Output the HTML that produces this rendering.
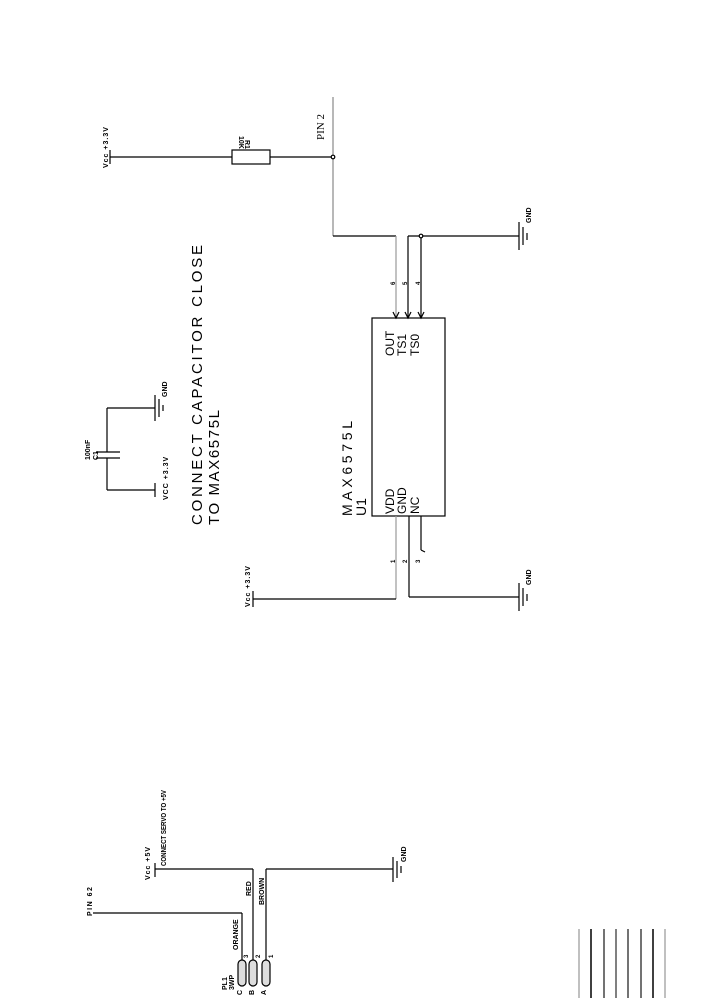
<!DOCTYPE html>
<html><head><style>
html,body{margin:0;padding:0;background:#fff;}
svg{display:block;}
text{font-family:"Liberation Sans",sans-serif;fill:#000;}
</style></head><body>
<svg width="712" height="998" viewBox="0 0 712 998" xmlns="http://www.w3.org/2000/svg">
<g stroke="#000" stroke-width="1.2" fill="none">
<line x1="110" y1="150" x2="110" y2="164"/>
<line x1="110" y1="157" x2="232" y2="157"/>
<rect x="232" y="150" width="38" height="14"/>
<line x1="270" y1="157" x2="333" y2="157"/>
<line x1="333" y1="97" x2="333" y2="236" stroke="#888"/>
<circle cx="333" cy="157" r="1.8" fill="#fff"/>
<line x1="333" y1="236" x2="396" y2="236"/>
<line x1="396" y1="236" x2="396" y2="318" stroke="#999"/>
<line x1="408" y1="236" x2="519" y2="236"/>
<line x1="408" y1="236" x2="408" y2="318"/>
<line x1="421" y1="236" x2="421" y2="318"/>
<circle cx="421" cy="236" r="1.8" fill="#fff"/>
<path d="M393 312 L396 318 L399 312 M405 312 L408 318 L411 312 M418 312 L421 318 L424 312"/>
<line x1="519" y1="222" x2="519" y2="250"/>
<line x1="523" y1="227" x2="523" y2="245"/>
<line x1="527" y1="233" x2="527" y2="240"/>
<rect x="372" y="318" width="73" height="198"/>
<line x1="396" y1="516" x2="396" y2="599" stroke="#999"/>
<line x1="253" y1="599" x2="396" y2="599"/>
<line x1="253" y1="591" x2="253" y2="607"/>
<line x1="409" y1="516" x2="409" y2="597"/>
<line x1="409" y1="597" x2="519" y2="597"/>
<line x1="519" y1="583" x2="519" y2="611"/>
<line x1="523" y1="588" x2="523" y2="606"/>
<line x1="527" y1="594" x2="527" y2="601"/>
<line x1="421" y1="516" x2="421" y2="550"/>
<path d="M421 550 L425 552"/>
<line x1="155" y1="483" x2="155" y2="497"/>
<line x1="107" y1="490" x2="155" y2="490"/>
<line x1="107" y1="458" x2="107" y2="490"/>
<line x1="96" y1="458" x2="120" y2="458"/>
<line x1="96" y1="452" x2="120" y2="452"/>
<line x1="107" y1="408" x2="107" y2="452"/>
<line x1="107" y1="408" x2="155" y2="408"/>
<line x1="155" y1="395" x2="155" y2="421"/>
<line x1="159" y1="399" x2="159" y2="417"/>
<line x1="163" y1="405" x2="163" y2="411"/>
<line x1="93" y1="913" x2="242" y2="913"/>
<line x1="242" y1="913" x2="242" y2="962"/>
<line x1="155" y1="863" x2="155" y2="877"/>
<line x1="155" y1="869" x2="253" y2="869"/>
<line x1="253" y1="869" x2="253" y2="962"/>
<line x1="266" y1="869" x2="393" y2="869"/>
<line x1="266" y1="869" x2="266" y2="962"/>
<line x1="393" y1="857" x2="393" y2="882"/>
<line x1="397" y1="861" x2="397" y2="878"/>
<line x1="401" y1="866" x2="401" y2="873"/>
<rect x="238" y="960" width="8" height="26" rx="4" fill="#ddd"/>
<rect x="249" y="960" width="8" height="26" rx="4" fill="#ddd"/>
<rect x="262" y="960" width="8" height="26" rx="4" fill="#ddd"/>
<g stroke-width="1.5">
<line x1="579" y1="929" x2="579" y2="998" stroke="#aaa"/>
<line x1="591" y1="929" x2="591" y2="998"/>
<line x1="604" y1="929" x2="604" y2="998" stroke="#444"/>
<line x1="616" y1="929" x2="616" y2="998" stroke="#555"/>
<line x1="628" y1="929" x2="628" y2="998" stroke="#444"/>
<line x1="641" y1="929" x2="641" y2="998" stroke="#444"/>
<line x1="653" y1="929" x2="653" y2="998"/>
<line x1="665" y1="929" x2="665" y2="998" stroke="#aaa"/>
</g>
</g>
<g font-size="7" font-weight="bold">
<text transform="translate(108,168) rotate(-90)" letter-spacing="1">Vcc +3.3V</text>
<text transform="translate(239,136) rotate(90)">10K</text>
<text transform="translate(245,140) rotate(90)">R1</text>
<text transform="translate(531,223) rotate(-90)">GND</text>
<text transform="translate(531,585) rotate(-90)">GND</text>
<text transform="translate(250,607) rotate(-90)" letter-spacing="1">Vcc +3.3V</text>
<text transform="translate(168,500) rotate(-90)" letter-spacing="1">VCC +3.3V</text>
<text transform="translate(167,397) rotate(-90)">GND</text>
<text transform="translate(90,460) rotate(-90)">100nF</text>
<text transform="translate(98,460) rotate(-90)">C1</text>
<text transform="translate(92,916) rotate(-90)" letter-spacing="1.5">PIN 62</text>
<text transform="translate(150,880) rotate(-90)" letter-spacing="1">Vcc +5V</text>
<text transform="translate(166,866) rotate(-90)" textLength="76" lengthAdjust="spacingAndGlyphs">CONNECT SERVO TO +5V</text>
<text transform="translate(406,862) rotate(-90)">GND</text>
<text transform="translate(238,950) rotate(-90)">ORANGE</text>
<text transform="translate(251,896) rotate(-90)">RED</text>
<text transform="translate(264,905) rotate(-90)">BROWN</text>
<text transform="translate(227,990) rotate(-90)">PL1</text>
<text transform="translate(234,990) rotate(-90)">3WP</text>
<text transform="translate(242,995) rotate(-90)">C</text>
<text transform="translate(254,995) rotate(-90)">B</text>
<text transform="translate(266,995) rotate(-90)">A</text>
<text transform="translate(248,958) rotate(-90)" font-size="6">3</text>
<text transform="translate(260,958) rotate(-90)" font-size="6">2</text>
<text transform="translate(273,958) rotate(-90)" font-size="6">1</text>
<text transform="translate(395,285) rotate(-90)" font-size="6">6</text>
<text transform="translate(407,285) rotate(-90)" font-size="6">5</text>
<text transform="translate(420,285) rotate(-90)" font-size="6">4</text>
<text transform="translate(395,563) rotate(-90)" font-size="6">1</text>
<text transform="translate(407,563) rotate(-90)" font-size="6">2</text>
<text transform="translate(420,563) rotate(-90)" font-size="6">3</text>
</g>
<text transform="translate(324,140) rotate(-90)" font-size="11" style="font-family:'Liberation Serif',serif">PIN 2</text>
<text transform="translate(202,525) rotate(-90)" font-size="15" textLength="280" lengthAdjust="spacing">CONNECT CAPACITOR CLOSE</text>
<text transform="translate(219,525) rotate(-90)" font-size="15" textLength="115" lengthAdjust="spacing">TO MAX6575L</text>
<text transform="translate(352,516) rotate(-90)" font-size="14" textLength="95" lengthAdjust="spacing">MAX6575L</text>
<text transform="translate(366,516) rotate(-90)" font-size="14">U1</text>
<g font-size="12" style="fill:#222">
<text transform="translate(394,356) rotate(-90)">OUT</text>
<text transform="translate(406,356) rotate(-90)">TS1</text>
<text transform="translate(419,356) rotate(-90)">TS0</text>
<text transform="translate(394,514) rotate(-90)">VDD</text>
<text transform="translate(406,514) rotate(-90)">GND</text>
<text transform="translate(419,514) rotate(-90)">NC</text>
</g>
</svg>
</body></html>
